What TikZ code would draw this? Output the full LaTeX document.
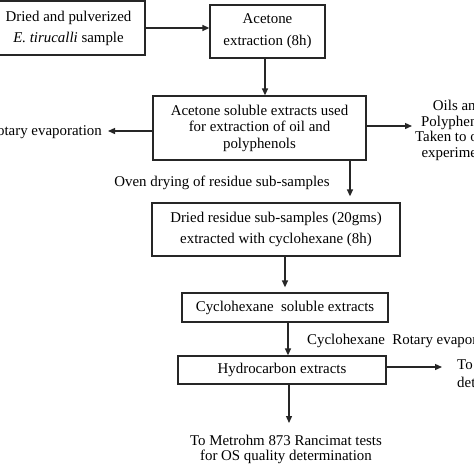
\documentclass[tikz,border=0pt]{standalone}
\usepackage{fontspec}
\setmainfont{Liberation Serif}
\usetikzlibrary{arrows.meta}
\begin{document}
\begin{tikzpicture}[x=1pt,y=-1pt,
  box/.style={draw=black!85,line width=1.3pt,rectangle,inner sep=0pt,align=center},
  lbl/.style={inner sep=0pt,align=center},
  arr/.style={draw=black!85,line width=1.3pt,-{Triangle[length=7pt,width=6pt]}},
  fs/.style={font=\fontsize{14.9}{#1}\selectfont},
]
\useasboundingbox (0,0) rectangle (474,474);
\clip (0,0) rectangle (474,474);
\fill[white] (0,0) rectangle (474,474);

\node[box,fs=21,minimum width=153pt,minimum height=54pt] (b1) at (68.5,28) {Dried and pulverized\\\textit{E. tirucalli} sample};
\node[box,fs=22,minimum width=115pt,minimum height=53pt] (b2) at (267.5,31.5) {Acetone\\extraction (8h)};
\node[box,fs=16.5,minimum width=213pt,minimum height=64pt] (b3) at (259.5,128) {Acetone soluble extracts used\\for extraction of oil and\\polyphenols};
\node[box,fs=21,minimum width=248pt,minimum height=53pt] (b4) at (276,229.5) {Dried residue sub-samples (20gms)\\extracted with cyclohexane (8h)};
\node[box,fs=18,minimum width=206pt,minimum height=29pt] (b5) at (285,307.5) {Cyclohexane\ \ soluble extracts};
\node[box,fs=18,minimum width=208pt,minimum height=28pt] (b6) at (282,370) {Hydrocarbon extracts};

\node[lbl,fs=18,anchor=east] (trot) at (102,132) {Rotary evaporation};
\node[lbl,fs=15.4] (toils) at (458,130.5) {Oils and\\Polyphenols\\Taken to other\\experiments};
\node[lbl,fs=18] (toven) at (222,183) {Oven drying of residue sub-samples};
\node[lbl,fs=18,anchor=west] (tcyc) at (307,341) {Cyclohexane\ \ Rotary evaporation};
\node[lbl,fs=18,align=left,anchor=west] (tto) at (457,374) {To GC-MS\\determination};
\node[lbl,fs=15] (tmet) at (286,449.5) {To Metrohm 873 Rancimat tests\\for OS quality determination};

\coordinate (c3w) at (108,131);
\coordinate (c3e) at (412,126);
\coordinate (c6e) at (442,367);
\coordinate (c6s) at (289,423);

\draw[arr] (b1.east) -- (b1.east -| b2.west);
\draw[arr] (b2.south -| 265,0) -- (b3.north -| 265,0);
\draw[arr] (b3.west |- c3w) -- (c3w);
\draw[arr] (b3.east |- c3e) -- (c3e);
\draw[arr,shorten >=6pt] (b3.south -| 350,0) -- (b4.north -| 350,0);
\draw[arr,shorten >=5pt] (b4.south -| 285,0) -- (b5.north -| 285,0);
\draw[arr] (b5.south -| 288,0) -- (b6.north -| 288,0);
\draw[arr] (b6.east |- c6e) -- (c6e);
\draw[arr] (b6.south -| c6s) -- (c6s);
\end{tikzpicture}
\end{document}
